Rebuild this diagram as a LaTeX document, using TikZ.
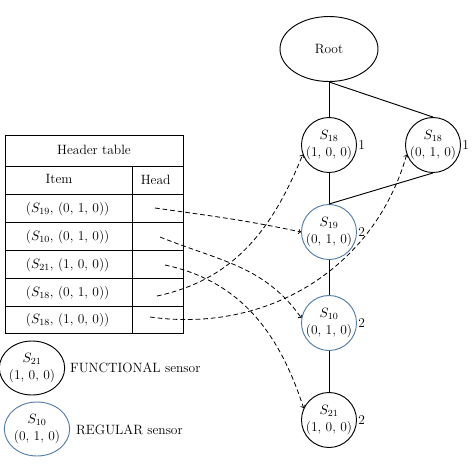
\documentclass[tikz,border=0pt]{standalone}
\usepackage{fix-cm}
\usetikzlibrary{shapes,positioning,calc}
\definecolor{regblue}{RGB}{84,125,168}
\newcommand{\sen}[2]{$S_{#1}$\\(#2)}

\begin{document}
\begin{tikzpicture}
[every node/.style={font=\fontsize{11.5}{14}\selectfont},
fsensor/.style={circle,draw=black,line width=.8pt,minimum size=1.65cm,inner sep=0pt,align=center},
rsensor/.style={fsensor,draw=regblue},
lsensor/.style={ellipse,draw=black,line width=.8pt,minimum width=1.74cm,minimum height=1.62cm,inner sep=0pt,align=center},
tedge/.style={line width=.8pt},
dedge/.style={dash pattern=on 4pt off 2.5pt,->,line width=.7pt},
tline/.style={line width=.8pt}]
\useasboundingbox (0,0) rectangle (14.22,-14.22);
%%
% header table
%%
\draw[tline] (0.15,-4.05) rectangle (5.49,-9.99);
\draw[tline] (0.15,-4.98) -- (5.49,-4.98);
\foreach \y in {-5.82,-6.66,-7.50,-8.34,-9.18}
  \draw[tline] (0.15,\y) -- (5.49,\y);
\draw[tline] (3.96,-4.98) -- (3.96,-9.99);
\node (title) at (2.82,-4.50) {Header table};
\node (item) at (1.77,-5.38) {Item};
\node (head) at (4.67,-5.40) {Head};
\node (r19) at (2.03,-6.26) {($S_{19}$, (0, 1, 0))};
\node (r10) at (2.03,-7.10) {($S_{10}$, (0, 1, 0))};
\node (r21) at (2.03,-7.94) {($S_{21}$, (1, 0, 0))};
\node (r18b) at (2.03,-8.78) {($S_{18}$, (0, 1, 0))};
\node (r18a) at (2.03,-9.60) {($S_{18}$, (1, 0, 0))};
%% head pointers
\coordinate (h1) at (4.65,-6.24);
\coordinate (h2) at (4.80,-7.11);
\coordinate (h3) at (4.95,-7.95);
\coordinate (h4) at (4.71,-8.88);
\coordinate (h5) at (4.50,-9.51);
%%
% tree
%%
\node[ellipse,draw,line width=.8pt,minimum width=2.94cm,minimum height=1.95cm] (root) at (9.87,-1.47) {Root};
\node[fsensor,label={[inner sep=1pt]right:1}] (s18a) at (9.87,-4.35) {\sen{18}{1, 0, 0}};
\node[fsensor,label={[inner sep=1pt]right:1}] (s18b) at (12.99,-4.35) {\sen{18}{0, 1, 0}};
\node[rsensor,label={[inner sep=1pt]right:2}] (s19) at (9.87,-6.96) {\sen{19}{0, 1, 0}};
\node[rsensor,label={[inner sep=1pt]right:2}] (s10) at (9.87,-9.69) {\sen{10}{0, 1, 0}};
\node[fsensor,label={[inner sep=1pt]right:2}] (s21) at (9.87,-12.60) {\sen{21}{1, 0, 0}};
\draw[tedge] (root) -- (s18a);
\draw[tedge] (root.south) -- (s18b.north);
\draw[tedge] (s18a) -- (s19);
\draw[tedge] (s18b.south) -- (s19.north);
\draw[tedge] (s19) -- (s10);
\draw[tedge] (s10) -- (s21);
%%
% node links
%%
\path
(h1) edge[dedge,out=-8,in=168] (s19.west)
(h2) edge[dedge,out=-22,in=125] (s10.170)
(h3) edge[dedge,out=-12,in=108] (s21.155)
(h4) edge[dedge,out=12,in=-112] (s18a.200)
(h5) edge[dedge,out=-8,in=-106] (s18b.200);
%%
% legend
%%
\node[lsensor] (lf) at (0.96,-11.04) {\sen{21}{1, 0, 0}};
\node[lsensor,draw=regblue] (lr) at (1.11,-12.87) {\sen{10}{0, 1, 0}};
\node[right,inner sep=0pt] (lft) at (2.10,-11.04) {FUNCTIONAL sensor};
\node[right,inner sep=0pt] (lrt) at (2.28,-12.90) {REGULAR sensor};
\end{tikzpicture}
\end{document}
